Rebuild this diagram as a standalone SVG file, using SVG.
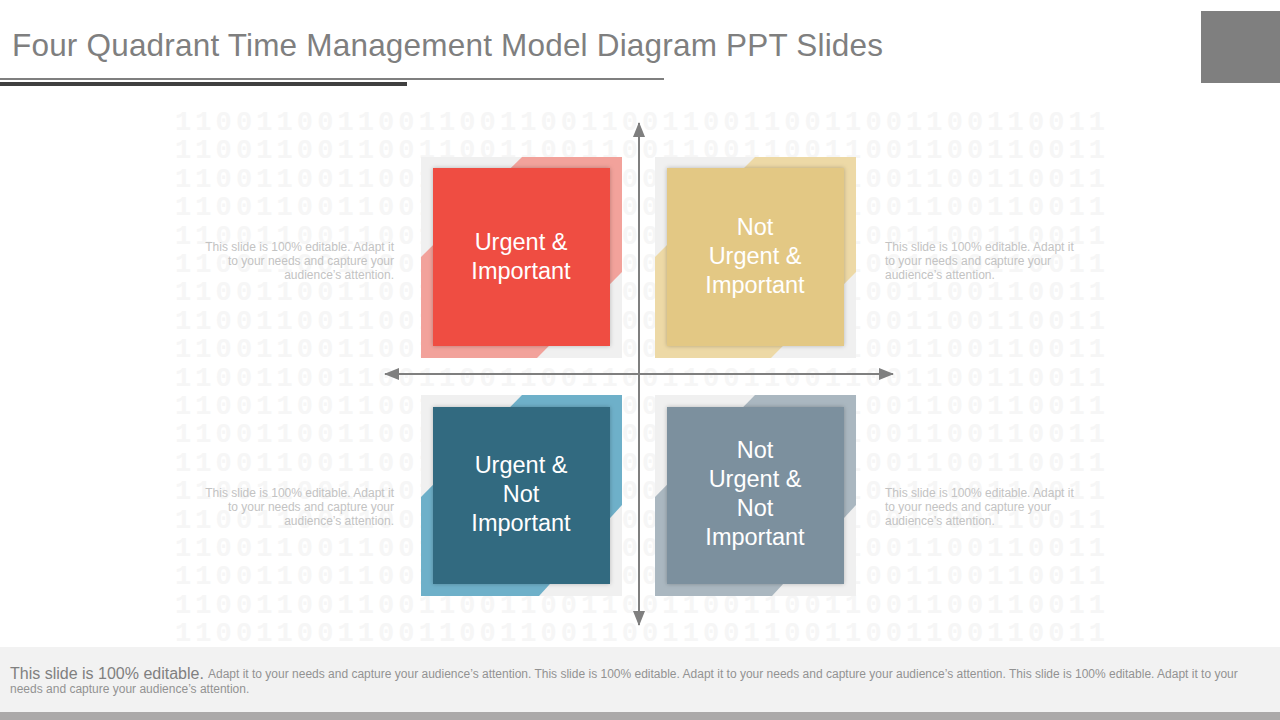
<svg xmlns="http://www.w3.org/2000/svg" width="1280" height="720" viewBox="0 0 1280 720">
  <defs>
    <style>
      .bin { font-family: "Liberation Mono", "DejaVu Sans Mono", monospace; font-weight: bold; font-size: 27px; fill: #f6f6f6; }
      .title { font-family: "Liberation Sans", Arial, sans-serif; font-size: 31.5px; fill: #7f7f7f; }
      .qlabel { font-family: "Liberation Sans", Arial, sans-serif; font-size: 23.5px; fill: #ffffff; text-anchor: middle; }
      .side { font-family: "Liberation Sans", Arial, sans-serif; font-size: 12px; fill: #c3c3c3; }
      .foot-big { font-family: "Liberation Sans", Arial, sans-serif; font-size: 16px; fill: #808080; }
      .foot { font-family: "Liberation Sans", Arial, sans-serif; font-size: 12px; fill: #929292; }
      .qbg { fill: #f0f0f0; }
      .axis { stroke: #7f7f7f; stroke-width: 2; fill: none; }
    </style>
    <filter id="sh" x="-10%" y="-10%" width="120%" height="120%">
      <feDropShadow dx="0" dy="0" stdDeviation="2" flood-color="#000000" flood-opacity="0.25"/>
    </filter>
    <marker id="arr" viewBox="0 0 15 12" refX="14" refY="6" markerWidth="15" markerHeight="12" markerUnits="userSpaceOnUse" orient="auto-start-reverse">
      <path d="M0,0 L15,6 L0,12 Z" fill="#7f7f7f"/>
    </marker>
  </defs>

  <rect x="0" y="0" width="1280" height="720" fill="#ffffff"/>

  <!-- binary background -->
  <g id="binary-bg">
    <text class="bin" x="175" y="130" textLength="930" lengthAdjust="spacing">1100110011001100110011001100110011001100110011</text>
    <text class="bin" x="175" y="158.4" textLength="930" lengthAdjust="spacing">1100110011001100110011001100110011001100110011</text>
    <text class="bin" x="175" y="186.8" textLength="930" lengthAdjust="spacing">1100110011001100110011001100110011001100110011</text>
    <text class="bin" x="175" y="215.2" textLength="930" lengthAdjust="spacing">1100110011001100110011001100110011001100110011</text>
    <text class="bin" x="175" y="243.6" textLength="930" lengthAdjust="spacing">1100110011001100110011001100110011001100110011</text>
    <text class="bin" x="175" y="272" textLength="930" lengthAdjust="spacing">1100110011001100110011001100110011001100110011</text>
    <text class="bin" x="175" y="300.4" textLength="930" lengthAdjust="spacing">1100110011001100110011001100110011001100110011</text>
    <text class="bin" x="175" y="328.8" textLength="930" lengthAdjust="spacing">1100110011001100110011001100110011001100110011</text>
    <text class="bin" x="175" y="357.2" textLength="930" lengthAdjust="spacing">1100110011001100110011001100110011001100110011</text>
    <text class="bin" x="175" y="385.6" textLength="930" lengthAdjust="spacing">1100110011001100110011001100110011001100110011</text>
    <text class="bin" x="175" y="414" textLength="930" lengthAdjust="spacing">1100110011001100110011001100110011001100110011</text>
    <text class="bin" x="175" y="442.4" textLength="930" lengthAdjust="spacing">1100110011001100110011001100110011001100110011</text>
    <text class="bin" x="175" y="470.8" textLength="930" lengthAdjust="spacing">1100110011001100110011001100110011001100110011</text>
    <text class="bin" x="175" y="499.2" textLength="930" lengthAdjust="spacing">1100110011001100110011001100110011001100110011</text>
    <text class="bin" x="175" y="527.6" textLength="930" lengthAdjust="spacing">1100110011001100110011001100110011001100110011</text>
    <text class="bin" x="175" y="556" textLength="930" lengthAdjust="spacing">1100110011001100110011001100110011001100110011</text>
    <text class="bin" x="175" y="584.4" textLength="930" lengthAdjust="spacing">1100110011001100110011001100110011001100110011</text>
    <text class="bin" x="175" y="612.8" textLength="930" lengthAdjust="spacing">1100110011001100110011001100110011001100110011</text>
    <text class="bin" x="175" y="641.2" textLength="930" lengthAdjust="spacing">1100110011001100110011001100110011001100110011</text>
  </g>

  <!-- header -->
  <g id="header">
    <text class="title" x="12" y="56" textLength="871" lengthAdjust="spacing">Four Quadrant Time Management Model Diagram PPT Slides</text>
    <rect x="0" y="78" width="664" height="2" fill="#7f7f7f"/>
    <rect x="0" y="82" width="407" height="4" fill="#404040"/>
    <rect x="1201" y="11" width="79" height="72" fill="#7f7f7f"/>
  </g>

  <!-- quadrant: urgent & important -->
  <g id="q-urgent-important">
    <rect class="qbg" x="421" y="157" width="201" height="201"/>
    <polygon points="522,157 622,157 622,272 537,358 421,358 421,257" fill="#f2a29b"/>
    <rect x="433" y="168" width="177" height="178" fill="#ef4e43" filter="url(#sh)"/>
    <text class="qlabel" x="521" y="250">Urgent &amp;</text>
    <text class="qlabel" x="521" y="279">Important</text>
  </g>

  <!-- quadrant: not urgent & important -->
  <g id="q-not-urgent-important">
    <rect class="qbg" x="655" y="157" width="201" height="201"/>
    <polygon points="755,157 856,157 856,272 771,358 655,358 655,257" fill="#edd9a6"/>
    <rect x="667" y="168" width="177" height="178" fill="#e3c884" filter="url(#sh)"/>
    <text class="qlabel" x="755" y="235">Not</text>
    <text class="qlabel" x="755" y="264">Urgent &amp;</text>
    <text class="qlabel" x="755" y="293">Important</text>
  </g>

  <!-- quadrant: urgent & not important -->
  <g id="q-urgent-not-important">
    <rect class="qbg" x="421" y="395" width="201" height="201"/>
    <polygon points="522,395 622,395 622,505 539,596 421,596 421,497" fill="#6eb0c9"/>
    <rect x="433" y="407" width="177" height="177" fill="#336b80" filter="url(#sh)"/>
    <text class="qlabel" x="521" y="473">Urgent &amp;</text>
    <text class="qlabel" x="521" y="502">Not</text>
    <text class="qlabel" x="521" y="531">Important</text>
  </g>

  <!-- quadrant: not urgent & not important -->
  <g id="q-not-urgent-not-important">
    <rect class="qbg" x="655" y="395" width="201" height="201"/>
    <polygon points="755,395 856,395 856,505 772,596 655,596 655,497" fill="#aab7c0"/>
    <rect x="667" y="407" width="177" height="177" fill="#7b909e" filter="url(#sh)"/>
    <text class="qlabel" x="755" y="458">Not</text>
    <text class="qlabel" x="755" y="487">Urgent &amp;</text>
    <text class="qlabel" x="755" y="516">Not</text>
    <text class="qlabel" x="755" y="545">Important</text>
  </g>

  <!-- connectors: axes -->
  <g id="connectors">
    <line class="axis" x1="639" y1="625" x2="639" y2="123" marker-start="url(#arr)" marker-end="url(#arr)"/>
    <line class="axis" x1="385" y1="374" x2="893" y2="374" marker-start="url(#arr)" marker-end="url(#arr)"/>
  </g>

  <!-- side descriptions -->
  <g id="desc-top-left">
    <text class="side" x="394" y="251" text-anchor="end">This slide is 100% editable. Adapt it</text>
    <text class="side" x="394" y="265" text-anchor="end">to your needs and capture your</text>
    <text class="side" x="394" y="279" text-anchor="end">audience’s attention.</text>
  </g>
  <g id="desc-top-right">
    <text class="side" x="885" y="251">This slide is 100% editable. Adapt it</text>
    <text class="side" x="885" y="265">to your needs and capture your</text>
    <text class="side" x="885" y="279">audience’s attention.</text>
  </g>
  <g id="desc-bottom-left">
    <text class="side" x="394" y="497" text-anchor="end">This slide is 100% editable. Adapt it</text>
    <text class="side" x="394" y="511" text-anchor="end">to your needs and capture your</text>
    <text class="side" x="394" y="525" text-anchor="end">audience’s attention.</text>
  </g>
  <g id="desc-bottom-right">
    <text class="side" x="885" y="497">This slide is 100% editable. Adapt it</text>
    <text class="side" x="885" y="511">to your needs and capture your</text>
    <text class="side" x="885" y="525">audience’s attention.</text>
  </g>

  <!-- footer -->
  <g id="footer">
    <rect x="0" y="647" width="1280" height="65" fill="#f2f2f2"/>
    <rect x="0" y="712" width="1280" height="8" fill="#aba9a9"/>
    <text class="foot-big" x="10" y="679">This slide is 100% editable.</text>
    <text class="foot" x="208" y="678">Adapt it to your needs and capture your audience’s attention. This slide is 100% editable. Adapt it to your needs and capture your audience’s attention. This slide is 100% editable. Adapt it to your</text>
    <text class="foot" x="10" y="693">needs and capture your audience’s attention.</text>
  </g>
</svg>
